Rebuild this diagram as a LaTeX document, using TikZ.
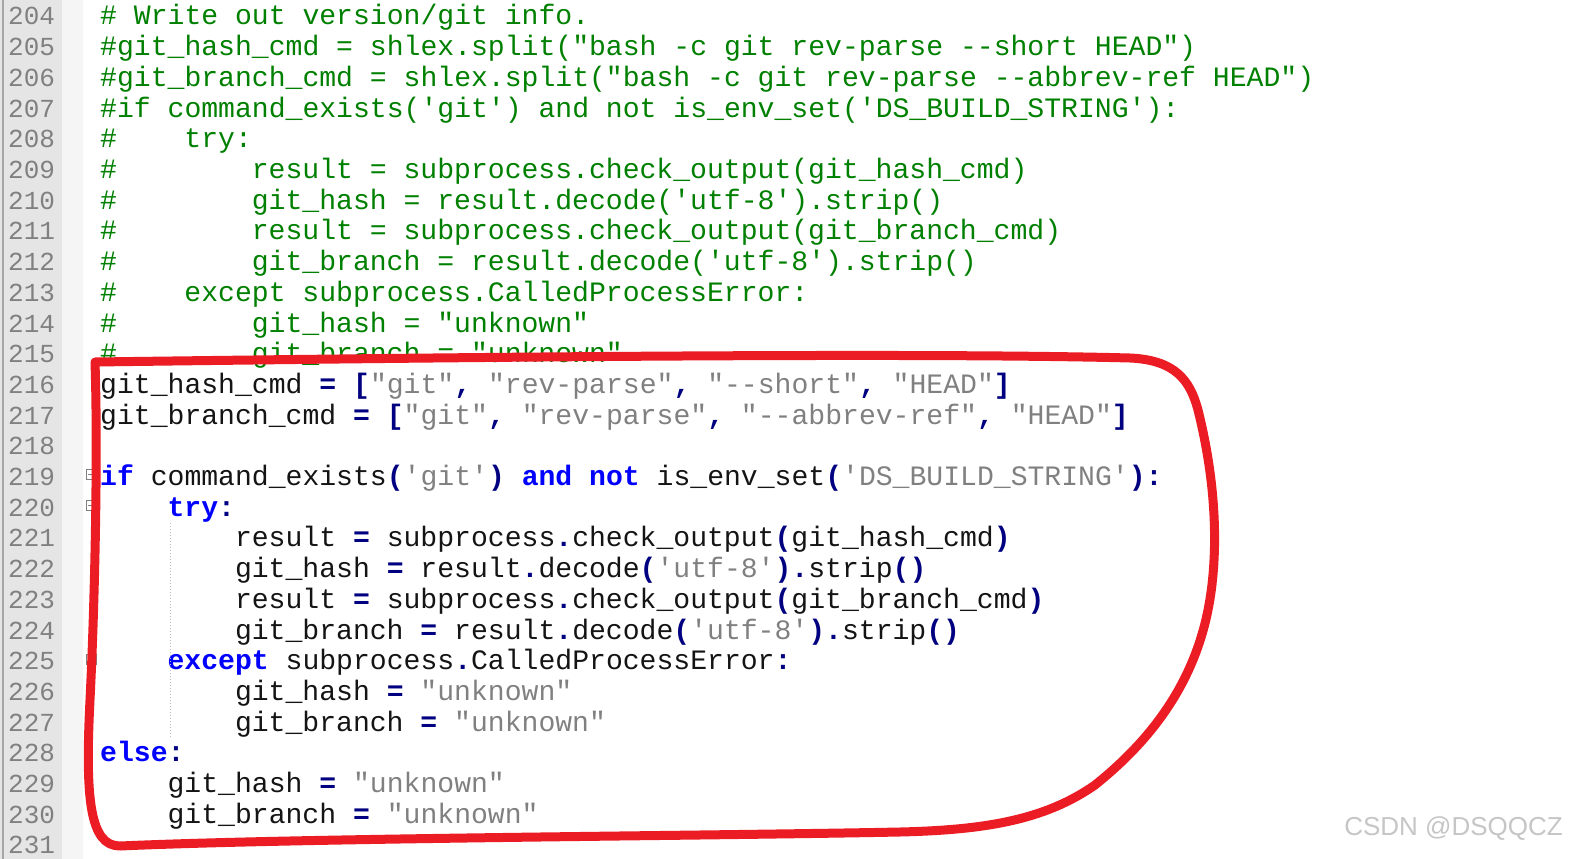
\documentclass[tikz,border=0pt]{standalone}
\usepackage{fontspec}
\setmonofont{Liberation Mono}
\definecolor{cmt}{RGB}{0,128,0}
\definecolor{kwc}{RGB}{0,0,255}
\definecolor{opc}{RGB}{0,0,128}
\definecolor{stc}{RGB}{128,128,128}
\definecolor{txc}{RGB}{20,20,20}
\definecolor{numc}{RGB}{128,128,128}
\definecolor{redc}{RGB}{235,28,36}
\newcommand{\kw}[1]{{\bfseries\color{kwc}#1}}
\newcommand{\op}[1]{{\bfseries\color{opc}#1}}
\newcommand{\st}[1]{{\color{stc}#1}}
\newcommand{\cw}{16.85}
\tikzset{code/.style={anchor=base west,inner sep=0,font=\fontsize{28.1}{30}\ttfamily,text=txc},
 cmtl/.style={code,text=cmt},
 num/.style={anchor=base west,inner sep=0,font=\fontsize{26}{30}\ttfamily,text=numc}}
\newcommand{\yb}[1]{25+(#1-204)*30.7}
\begin{document}
\begin{tikzpicture}[x=1pt,y=-1pt]
\useasboundingbox (0,0) rectangle (1583,859);
\fill[white] (0,0) rectangle (1583,859);
\fill[gray!20] (0,0) rectangle (62,859);
\fill[gray!8] (62,0) rectangle (83,859);
\draw[gray!70,line width=2] (3,0) -- (3,859);
\foreach \n in {204,...,231} { \node[num] (n\n) at (8,{\yb{\n}}) {\n}; }
% comments
\node[cmtl] (l204) at (100,{\yb{204}}) {\# Write out version/git info.};
\node[cmtl] (l205) at (100,{\yb{205}}) {\#git\_hash\_cmd = shlex.split("bash -c git rev-parse --short HEAD")};
\node[cmtl] (l206) at (100,{\yb{206}}) {\#git\_branch\_cmd = shlex.split("bash -c git rev-parse --abbrev-ref HEAD")};
\node[cmtl] (l207) at (100,{\yb{207}}) {\#if command\_exists('git') and not is\_env\_set('DS\_BUILD\_STRING'):};
\foreach \n in {208,...,215} { \node[cmtl] (h\n) at (100,{\yb{\n}}) {\#}; }
\node[cmtl] (l208) at ({100+5*\cw},{\yb{208}}) {try:};
\node[cmtl] (l209) at ({100+9*\cw},{\yb{209}}) {result = subprocess.check\_output(git\_hash\_cmd)};
\node[cmtl] (l210) at ({100+9*\cw},{\yb{210}}) {git\_hash = result.decode('utf-8').strip()};
\node[cmtl] (l211) at ({100+9*\cw},{\yb{211}}) {result = subprocess.check\_output(git\_branch\_cmd)};
\node[cmtl] (l212) at ({100+9*\cw},{\yb{212}}) {git\_branch = result.decode('utf-8').strip()};
\node[cmtl] (l213) at ({100+5*\cw},{\yb{213}}) {except subprocess.CalledProcessError:};
\node[cmtl] (l214) at ({100+9*\cw},{\yb{214}}) {git\_hash = "unknown"};
\node[cmtl] (l215) at ({100+9*\cw},{\yb{215}}) {git\_branch = "unknown"};
% code
\node[code] (l216) at (100,{\yb{216}}) {git\_hash\_cmd \op{=} \op{[}\st{"git"}\op{,} \st{"rev-parse"}\op{,} \st{"--short"}\op{,} \st{"HEAD"}\op{]}};
\node[code] (l217) at (100,{\yb{217}}) {git\_branch\_cmd \op{=} \op{[}\st{"git"}\op{,} \st{"rev-parse"}\op{,} \st{"--abbrev-ref"}\op{,} \st{"HEAD"}\op{]}};
\node[code] (l219) at (100,{\yb{219}}) {\kw{if} command\_exists\op{(}\st{'git'}\op{)} \kw{and} \kw{not} is\_env\_set\op{(}\st{'DS\_BUILD\_STRING'}\op{):}};
\node[code] (l220) at ({100+4*\cw},{\yb{220}}) {\kw{try}\op{:}};
\node[code] (l221) at ({100+8*\cw},{\yb{221}}) {result \op{=} subprocess\op{.}check\_output\op{(}git\_hash\_cmd\op{)}};
\node[code] (l222) at ({100+8*\cw},{\yb{222}}) {git\_hash \op{=} result\op{.}decode\op{(}\st{'utf-8'}\op{).}strip\op{()}};
\node[code] (l223) at ({100+8*\cw},{\yb{223}}) {result \op{=} subprocess\op{.}check\_output\op{(}git\_branch\_cmd\op{)}};
\node[code] (l224) at ({100+8*\cw},{\yb{224}}) {git\_branch \op{=} result\op{.}decode\op{(}\st{'utf-8'}\op{).}strip\op{()}};
\node[code] (l225) at ({100+4*\cw},{\yb{225}}) {\kw{except} subprocess\op{.}CalledProcessError\op{:}};
\node[code] (l226) at ({100+8*\cw},{\yb{226}}) {git\_hash \op{=} \st{"unknown"}};
\node[code] (l227) at ({100+8*\cw},{\yb{227}}) {git\_branch \op{=} \st{"unknown"}};
\node[code] (l228) at (100,{\yb{228}}) {\kw{else}\op{:}};
\node[code] (l229) at ({100+4*\cw},{\yb{229}}) {git\_hash \op{=} \st{"unknown"}};
\node[code] (l230) at ({100+4*\cw},{\yb{230}}) {git\_branch \op{=} \st{"unknown"}};
% fold markers and guides
\foreach \n in {219,220,225} { \draw[gray] (86,{\yb{\n}-16}) rectangle (96,{\yb{\n}-6}); \draw[gray] (88,{\yb{\n}-11}) -- (94,{\yb{\n}-11}); }
\draw[gray] (91,{\yb{220}-6}) -- (91,{\yb{228}});
\draw[gray!50,dotted,line width=1] (170,{\yb{221}-24}) -- (170,{\yb{227}+6});
% red loop
\draw[redc,line width=9,line cap=round,line join=round]
 (95,362) .. controls (400,358) and (900,352) .. (1130,358)
 .. controls (1175,360) and (1190,380) .. (1198,410)
 .. controls (1218,490) and (1218,560) .. (1208,610)
 .. controls (1192,690) and (1145,745) .. (1095,785)
 .. controls (1045,820) and (985,830) .. (900,832)
 .. controls (700,836) and (300,838) .. (120,846)
 .. controls (90,846) and (85,800) .. (90,700)
 .. controls (95,600) and (98,450) .. (95,362);
\node[anchor=base east,inner sep=0,font=\fontsize{26}{30}\fontspec{Liberation Sans},text=gray!45] (wm) at (1563,835) {CSDN @DSQQCZ};
\end{tikzpicture}
\end{document}
